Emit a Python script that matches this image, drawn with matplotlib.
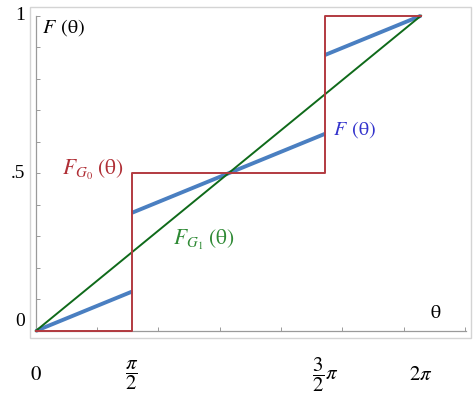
import numpy as np
import matplotlib
matplotlib.use("Agg")
import matplotlib.pyplot as plt
from matplotlib.patches import Rectangle

plt.rcParams['mathtext.fontset'] = 'stix'
plt.rcParams['font.family'] = ['Liberation Serif', 'DejaVu Serif']

PI = np.pi
# Data
x_steps = [0, PI/2, PI/2, 3*PI/2, 3*PI/2, 2*PI]
F_G0 = [0, 0, 0.5, 0.5, 1, 1]                 # red step CDF
# blue mixture CDF: three separate pieces (no vertical jumps drawn)
mix_x = [[0, PI/2], [PI/2, 3*PI/2], [3*PI/2, 2*PI]]
mix_y = [[0, 0.125], [0.375, 0.625], [0.875, 1]]
x_lin = [0, 2*PI]
F_G1 = [0, 1]                                  # green uniform CDF

xtick_pos = [0, PI/2, 3*PI/2, 2*PI]
xtick_labels = [r'$0$', r'$\dfrac{\pi}{2}$', r'$\dfrac{3}{2}\pi$', r'$2\pi$']
ytick_pos = [1, 0.5, 0]
ytick_labels = ['1', '.5', '0']

W, H = 474, 401
fig = plt.figure(figsize=(W/100, H/100), dpi=100)

def fx(px):
    return px / W
def fy(py):
    return 1 - py / H

# outer light frame
fig.patches.append(Rectangle((fx(30), fy(338)), fx(471) - fx(30), fy(7) - fy(338),
                             transform=fig.transFigure, fill=False,
                             edgecolor='#d4d4d4', lw=1.0))

x0, x1 = 35.7, 466
y0, y1 = 331, 15.7
ax = fig.add_axes([fx(x0), fy(y0), fx(x1) - fx(x0), fy(y1) - fy(y0)])
ax.set_xlim(0, (x1 - x0) / ((421 - 35.7) / (2*PI)))
ax.set_ylim(0, 1.0)
for s in ['top', 'right']:
    ax.spines[s].set_visible(False)
for s in ['left', 'bottom']:
    ax.spines[s].set_color('#9a9a9a')
    ax.spines[s].set_linewidth(0.9)
ax.set_xticks(np.arange(1, 8))
ax.set_yticks(np.arange(0.1, 1.01, 0.1))
ax.tick_params(direction='in', length=3, width=0.7, color='#9a9a9a',
               labelbottom=False, labelleft=False)
ax.patch.set_alpha(0)

ax.plot(x_lin, F_G1, color='#0f6a1a', lw=1.4, clip_on=False, zorder=3)
for xs, ys in zip(mix_x, mix_y):
    ax.plot(xs, ys, color='#4a7fc1', lw=2.8, clip_on=False, zorder=2,
            solid_capstyle='butt')
ax.plot(x_steps, F_G0, color='#b23a40', lw=1.4, clip_on=False, zorder=4)

# tick labels
for xp, lab in zip(xtick_pos, xtick_labels):
    ax.text(xp, -0.14, lab, ha='center', va='center', fontsize=15,
            transform=ax.transData, clip_on=False)
for yp, lab in zip(ytick_pos, ytick_labels):
    yy = yp + (0.03 if yp == 0 else 0)
    ax.text(-0.17, yy, lab, ha='right', va='center', fontsize=14,
            transform=ax.transData, clip_on=False)

# annotations
fig.text(fx(42), fy(28), r'$F\;\,(\mathrm{\theta})$', fontsize=14.5, ha='left', va='center')
fig.text(fx(62), fy(170), r'$F_{G_0}\;(\mathrm{\theta})$', fontsize=15.5, ha='left', va='center',
         color='#b02f36')
fig.text(fx(173), fy(240), r'$F_{G_1}\;(\mathrm{\theta})$', fontsize=15.5, ha='left', va='center',
         color='#2f8a35')
fig.text(fx(333), fy(130), r'$F\;\,(\mathrm{\theta})$', fontsize=14.5, ha='left', va='center',
         color='#3333cc')
fig.text(fx(436), fy(313), r'$\mathrm{\theta}$', fontsize=14.5, ha='center', va='center')

fig.savefig('out.png', dpi=100)
